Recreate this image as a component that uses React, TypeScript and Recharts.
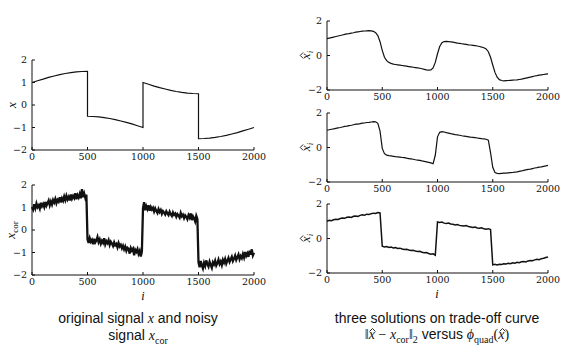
import React from 'react';
import { LineChart, Line, XAxis, YAxis } from 'recharts';

// sample index ticks and value ticks
const iTicks = [0, 500, 1000, 1500, 2000];
const xTicks = [-2, -1, 0, 1, 2];
const hatTicks = [-2, 0, 2];

// original signal x (every 50 samples, jumps repeated)
const origI = [
  0, 50, 100, 150, 200, 250, 300, 350, 400, 450, 500,
  500, 550, 600, 650, 700, 750, 800, 850, 900, 950, 1000,
  1000, 1050, 1100, 1150, 1200, 1250, 1300, 1350, 1400, 1450, 1500,
  1500, 1550, 1600, 1650, 1700, 1750, 1800, 1850, 1900, 1950, 2000,
];
const origX = [
  1.0, 1.08, 1.15, 1.23, 1.29, 1.35, 1.4, 1.44, 1.47, 1.49, 1.5,
  -0.5, -0.51, -0.53, -0.56, -0.6, -0.65, -0.71, -0.77, -0.84, -0.92, -1.0,
  1.0, 0.92, 0.84, 0.77, 0.71, 0.65, 0.6, 0.56, 0.53, 0.51, 0.5,
  -1.5, -1.49, -1.47, -1.44, -1.4, -1.35, -1.29, -1.23, -1.15, -1.08, -1.0,
];

// noisy signal x_cor, one value every 10 samples
const corStep = 10;
const xCor = [
  1.02, 0.91, 1.14, 0.97, 1.18, 1.01, 1.09, 0.95, 1.21, 1.06,
  1.16, 1.02, 1.25, 1.08, 1.19, 1.31, 1.1, 1.27, 1.13, 1.33,
  1.22, 1.38, 1.19, 1.34, 1.26, 1.45, 1.23, 1.41, 1.3, 1.49,
  1.33, 1.52, 1.36, 1.47, 1.31, 1.58, 1.39, 1.51, 1.42, 1.63,
  1.37, 1.55, 1.44, 1.6, 1.41, 1.82, 1.46, 1.62, 1.43, 1.57,
  -0.41, -0.58, -0.36, -0.52, -0.44, -0.63, -0.39, -0.55, -0.47, -0.31,
  -0.54, -0.42, -0.61, -0.48, -0.57, -0.37, -0.64, -0.5, -0.58, -0.45,
  -0.66, -0.52, -0.6, -0.71, -0.55, -0.68, -0.62, -0.77, -0.58, -0.73,
  -0.66, -0.81, -0.7, -0.86, -0.74, -0.92, -0.79, -0.84, -1.05, -0.8,
  -0.91, -0.83, -1.12, -0.88, -0.97, -0.85, -1.06, -0.93, -1.18, -0.96,
  0.97, 1.24, 0.88, 1.06, 0.93, 1.1, 0.86, 1.02, 0.91, 0.99,
  0.82, 0.96, 0.85, 0.76, 0.93, 0.8, 0.89, 0.72, 0.84, 0.77,
  0.69, 0.83, 0.74, 0.66, 0.81, 0.7, 0.62, 0.78, 0.67, 0.73,
  0.59, 0.71, 0.64, 0.55, 0.76, 0.61, 0.68, 0.53, 0.65, 0.58,
  0.48, 0.66, 0.55, 0.74, 0.44, 0.61, 0.52, 0.38, 0.63, 0.49,
  -1.44, -1.66, -1.38, -1.57, -1.71, -1.46, -1.6, -1.35, -1.52, -1.63,
  -1.41, -1.55, -1.68, -1.44, -1.53, -1.37, -1.58, -1.47, -1.32, -1.51,
  -1.4, -1.56, -1.33, -1.45, -1.29, -1.49, -1.36, -1.24, -1.42, -1.31,
  -1.19, -1.38, -1.27, -1.14, -1.33, -1.21, -1.09, -1.3, -1.16, -1.25,
  -1.07, -1.22, -0.98, -1.15, -1.04, -1.19, -0.92, -1.1, -0.86, -1.13, -1.01,
];

// three reconstructions x_hat, one value every 20 samples
const hatStep = 20;
const hatSmooth = [
  0.98, 1.01, 1.04, 1.07, 1.1, 1.13, 1.16, 1.19, 1.22, 1.25, 1.27, 1.3, 1.32, 1.35, 1.37, 1.39, 1.41, 1.42, 1.43, 1.44, 1.43,
  1.4, 1.32, 1.15, 0.8, 0.3, -0.1, -0.3, -0.4, -0.46, -0.5,
  -0.52, -0.54, -0.56, -0.58, -0.6, -0.62, -0.64, -0.66, -0.68, -0.7, -0.72, -0.74, -0.77, -0.8, -0.83, -0.85, -0.84, -0.72, -0.4,
  0.1, 0.52, 0.74, 0.81, 0.82, 0.81, 0.79, 0.77, 0.75, 0.72, 0.7,
  0.68, 0.66, 0.64, 0.62, 0.61, 0.59, 0.57, 0.55, 0.52, 0.49, 0.45, 0.38,
  0.22, -0.1, -0.55, -0.98, -1.26, -1.4, -1.45, -1.47,
  -1.46, -1.45, -1.44, -1.43, -1.42, -1.41, -1.39, -1.37, -1.34, -1.31, -1.28, -1.25, -1.22, -1.19, -1.17, -1.14, -1.12, -1.1, -1.08, -1.06,
];
const hatMid = [
  1.0, 1.03, 1.06, 1.08, 1.11, 1.14, 1.16, 1.19, 1.22, 1.24, 1.27, 1.29, 1.32, 1.35, 1.36, 1.38, 1.41, 1.42, 1.45, 1.46, 1.48, 1.5, 1.49, 1.4, 0.95,
  -0.05, -0.36, -0.44, -0.47, -0.49, -0.51, -0.53, -0.54, -0.56, -0.58, -0.59, -0.62, -0.64, -0.66, -0.68, -0.71, -0.73, -0.75, -0.78, -0.8, -0.83, -0.86, -0.89, -0.94, -0.45,
  0.62, 0.88, 0.92, 0.9, 0.86, 0.83, 0.8, 0.78, 0.75, 0.73, 0.71, 0.68, 0.66, 0.64, 0.62, 0.6, 0.59, 0.57, 0.55, 0.53, 0.51, 0.5, 0.48, 0.42, -0.3,
  -1.15, -1.45, -1.5, -1.51, -1.5, -1.49, -1.48, -1.47, -1.46, -1.45, -1.43, -1.41, -1.38, -1.36, -1.33, -1.3, -1.27, -1.25, -1.22, -1.19, -1.17, -1.14, -1.12, -1.09, -1.07, -1.04,
];
const hatRough = [
  1.0, 1.05, 1.03, 1.09, 1.12, 1.1, 1.16, 1.19, 1.17, 1.23, 1.25, 1.22, 1.29, 1.31, 1.28, 1.34, 1.37, 1.35, 1.41, 1.39, 1.44, 1.47, 1.45, 1.51, 1.49,
  -0.45, -0.49, -0.47, -0.52, -0.5, -0.55, -0.53, -0.58, -0.56, -0.61, -0.64, -0.62, -0.67, -0.7, -0.68, -0.73, -0.76, -0.74, -0.8, -0.83, -0.81, -0.87, -0.91, -0.89, -0.97,
  0.96, 0.93, 0.95, 0.89, 0.87, 0.9, 0.84, 0.82, 0.79, 0.81, 0.76, 0.74, 0.72, 0.75, 0.69, 0.67, 0.64, 0.66, 0.61, 0.59, 0.62, 0.56, 0.54, 0.57, 0.52,
  -1.53, -1.5, -1.54, -1.49, -1.51, -1.46, -1.48, -1.44, -1.46, -1.41, -1.43, -1.38, -1.4, -1.35, -1.33, -1.36, -1.3, -1.27, -1.29, -1.24, -1.21, -1.23, -1.17, -1.14, -1.1, -1.07,
];

const rows = (vals: number[], step: number) => vals.map((v, k) => ({ i: k * step, v }));
const origRows = origI.map((i, k) => ({ i, v: origX[k] }));

const serif = '"DejaVu Serif", "Liberation Serif", serif';
const mathSerif = '"Liberation Serif", "DejaVu Serif", serif';
const sans = '"Liberation Sans", Arial, sans-serif';
const fmt = (v: number) => (v < 0 ? '\u2212' + Math.abs(v) : String(v));

const BottomTick = ({ x, y, payload }: any) => (
  <text x={x} y={y} dy="0.75em" textAnchor="middle" fontSize={9.5} fill="#111" fontFamily={serif}>
    {payload.value}
  </text>
);
const LeftTick = ({ x, y, payload }: any) => (
  <text x={x} y={y} dy="0.35em" textAnchor="end" fontSize={9.5} fill="#111" fontFamily={serif}>
    {fmt(payload.value)}
  </text>
);

type Box = { x: number; y: number; w: number; h: number };

function Panel({ data, ticks, box, width = 1.2 }: { data: any[]; ticks: number[]; box: Box; width?: number }) {
  const padL = 34, padT = 8, padR = 16, padB = 20;
  return (
    <div style={{ position: 'absolute', left: box.x - padL, top: box.y - padT }}>
      <LineChart width={box.w + padL + padR} height={box.h + padT + padB} data={data}
        margin={{ top: padT, right: padR, bottom: 0, left: 0 }}>
        <XAxis dataKey="i" type="number" domain={[0, 2000]} ticks={iTicks} height={padB}
          stroke="#111" tickSize={-3} tickMargin={6} tick={<BottomTick />} interval={0} />
        <XAxis xAxisId="top" orientation="top" dataKey="i" type="number" domain={[0, 2000]} ticks={iTicks}
          height={0} stroke="#111" tickSize={-3} tickFormatter={() => ''} interval={0} />
        <YAxis type="number" domain={[-2, 2]} ticks={ticks} width={padL} stroke="#111"
          tickSize={-3} tickMargin={8} tick={<LeftTick />} interval={0} />
        <YAxis yAxisId="r" orientation="right" type="number" domain={[-2, 2]} ticks={ticks} width={0}
          stroke="#111" tickSize={-3} tickFormatter={() => ''} interval={0} />
        <Line dataKey="v" stroke="#111" strokeWidth={width} dot={false} isAnimationActive={false} />
      </LineChart>
    </div>
  );
}

const it: React.CSSProperties = { fontFamily: mathSerif, fontStyle: 'italic' };
const rm: React.CSSProperties = { fontFamily: mathSerif, fontStyle: 'normal' };

// italic x with a small drawn caret above it
function Hat({ children }: { children: React.ReactNode }) {
  return (
    <span style={{ position: 'relative', display: 'inline-block', ...it }}>
      {children}
      <svg width="7" height="4" viewBox="0 0 7 4"
        style={{ position: 'absolute', left: '50%', top: '0.05em', transform: 'translateX(-40%)', overflow: 'visible' }}>
        <polyline points="0.5,3.5 3.5,0.5 6.5,3.5" fill="none" stroke="#111" strokeWidth="0.9" />
      </svg>
    </span>
  );
}

function VLabel({ x, y, children }: { x: number; y: number; children: React.ReactNode }) {
  return (
    <div style={{ position: 'absolute', left: x, top: y, transform: 'translate(-50%,-50%) rotate(-90deg)',
      whiteSpace: 'nowrap', fontSize: 13, lineHeight: 1, color: '#111' }}>{children}</div>
  );
}

const XHat = () => (
  <span><Hat>x</Hat><sub style={{ ...it, fontSize: 9 }}>i</sub></span>
);

export default function App() {
  const left = 32, right = 327;
  return (
    <div style={{ position: 'absolute', left: 0, top: 0, width: 570, height: 356, background: '#fff' }}>
      <Panel data={origRows} ticks={xTicks} box={{ x: left, y: 60, w: 222, h: 90 }} />
      <Panel data={rows(xCor, corStep)} ticks={xTicks} box={{ x: left, y: 185, w: 222, h: 90 }} width={2.3} />
      <Panel data={rows(hatSmooth, hatStep)} ticks={hatTicks} box={{ x: right, y: 21, w: 221, h: 69 }} />
      <Panel data={rows(hatMid, hatStep)} ticks={hatTicks} box={{ x: right, y: 113, w: 221, h: 69 }} />
      <Panel data={rows(hatRough, hatStep)} ticks={hatTicks} box={{ x: right, y: 204, w: 221, h: 69 }} width={1.5} />

      <VLabel x={11} y={105}><span style={it}>x</span></VLabel>
      <VLabel x={12} y={230}><span style={it}>x</span><sub style={{ ...rm, fontSize: 9 }}>cor</sub></VLabel>
      <VLabel x={307} y={55}><XHat /></VLabel>
      <VLabel x={307} y={147}><XHat /></VLabel>
      <VLabel x={307} y={238}><XHat /></VLabel>

      <div style={{ position: 'absolute', left: 143, top: 296, transform: 'translate(-50%,-50%)', ...it, fontSize: 12, lineHeight: 1 }}>i</div>
      <div style={{ position: 'absolute', left: 437, top: 294, transform: 'translate(-50%,-50%)', ...it, fontSize: 12, lineHeight: 1 }}>i</div>

      <div style={{ position: 'absolute', left: 138, top: 310, transform: 'translateX(-50%)', textAlign: 'center',
        fontFamily: sans, fontSize: 14, lineHeight: '16px', color: '#111', whiteSpace: 'nowrap' }}>
        <div>original signal <span style={it}>x</span> and noisy</div>
        <div>signal <span style={it}>x</span><sub style={{ ...rm, fontSize: 10 }}>cor</sub></div>
      </div>
      <div style={{ position: 'absolute', left: 437, top: 310, transform: 'translateX(-50%)', textAlign: 'center',
        fontFamily: sans, fontSize: 14, lineHeight: '16px', color: '#111', whiteSpace: 'nowrap' }}>
        <div>three solutions on trade-off curve</div>
        <div>
          <span style={rm}>&#8214;</span><Hat>x</Hat><span style={rm}> &#8722; </span>
          <span style={it}>x</span><sub style={{ ...rm, fontSize: 10 }}>cor</sub><span style={rm}>&#8214;</span>
          <sub style={{ ...rm, fontSize: 10 }}>2</sub> versus <span style={it}>&#981;</span>
          <sub style={{ ...rm, fontSize: 10 }}>quad</sub><span style={rm}>(</span><Hat>x</Hat><span style={rm}>)</span>
        </div>
      </div>
    </div>
  );
}
